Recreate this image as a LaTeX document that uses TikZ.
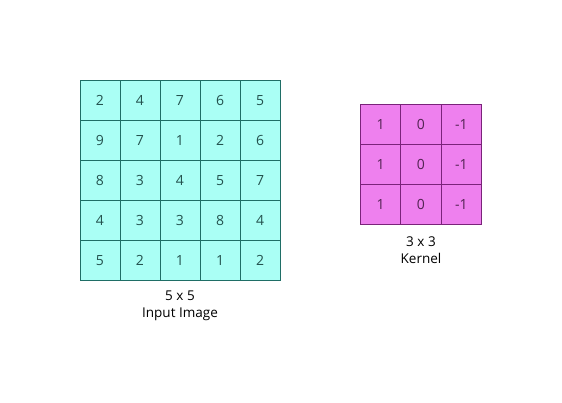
\documentclass[tikz,border=0pt]{standalone}
\usepackage{fontspec}
\setmainfont{Open Sans}
\definecolor{cyanfill}{HTML}{AAFFF5}
\definecolor{cyanline}{HTML}{1F6E66}
\definecolor{cyantext}{HTML}{24524E}
\definecolor{magfill}{HTML}{EE80EE}
\definecolor{magline}{HTML}{7A237A}
\definecolor{magtext}{HTML}{522452}
\begin{document}
\begin{tikzpicture}[x=1pt,y=-1pt,
  incell/.style={draw=cyanline,fill=cyanfill,line width=0.9pt,minimum width=40pt,minimum height=40pt,inner sep=0pt,outer sep=0pt,text=cyantext,font=\fontsize{14}{16}\selectfont},
  kcell/.style={draw=magline,fill=magfill,line width=0.9pt,minimum width=40.3pt,minimum height=40.3pt,inner sep=0pt,outer sep=0pt,text=magtext,font=\fontsize{14}{16}\selectfont},
  lbl/.style={align=center,font=\fontsize{13.5}{17.5}\selectfont,text=black}]
\useasboundingbox (0,0) rectangle (562,402);
% input image 5x5
\foreach \row/\vals in {1/{2,4,7,6,5},2/{9,7,1,2,6},3/{8,3,4,5,7},4/{4,3,3,8,4},5/{5,2,1,1,2}}{
  \foreach \v [count=\col] in \vals {
    \node[incell] (in-\row-\col) at ({80+40*(\col-0.5)},{80.5+40*(\row-0.5)}) {\v};
  }
}
% kernel 3x3
\foreach \row in {1,2,3}{
  \node[kcell] (k-\row-1) at ({360.5+40.3*0.5},{104+40.3*(\row-0.5)}) {1};
  \node[kcell] (k-\row-2) at ({360.5+40.3*1.5},{104+40.3*(\row-0.5)}) {0};
  \node[kcell] (k-\row-3) at ({360.5+40.3*2.5},{104+40.3*(\row-0.5)}) {-1};
}
\node[lbl] (inlabel) at (180,306) {5 x 5\\Input Image};
\node[lbl] (klabel) at (421,250) {3 x 3\\Kernel};
\end{tikzpicture}
\end{document}
